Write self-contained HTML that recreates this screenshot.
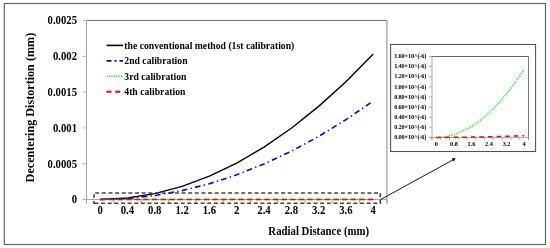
<!DOCTYPE html>
<html><head><meta charset="utf-8"><style>
html,body{margin:0;padding:0;background:#fff;width:550px;height:248px;overflow:hidden}
svg{display:block}
text{font-family:"Liberation Serif",serif;font-weight:bold;fill:#000}
.t1{font-size:10.7px}
.t2{font-size:10.8px}
.t3{font-size:12.15px}
.tl{font-size:9.7px}
.ti{font-size:6.3px}
</style></head><body>
<svg width="550" height="248" viewBox="0 0 550 248">
<rect x="0" y="0" width="550" height="248" fill="#fff"/>
<rect x="4.3" y="3.5" width="541.2" height="241" fill="none" stroke="#666" stroke-width="1.2"/>
<line x1="86.5" y1="20.5" x2="386.9" y2="20.5" stroke="#777" stroke-width="1"/>
<line x1="386.9" y1="20.5" x2="386.9" y2="203.5" stroke="#888" stroke-width="1"/>
<line x1="86.5" y1="20.5" x2="86.5" y2="203.5" stroke="#a8a8a8" stroke-width="1"/>
<line x1="82.5" y1="199.5" x2="386.9" y2="199.5" stroke="#a8a8a8" stroke-width="1"/>
<line x1="83.0" y1="199.50" x2="86.5" y2="199.50" stroke="#b0b0b0" stroke-width="1"/>
<text transform="translate(77,203.30) scale(1,1.08)" text-anchor="end" class="t1">0</text>
<line x1="83.0" y1="163.70" x2="86.5" y2="163.70" stroke="#b0b0b0" stroke-width="1"/>
<text transform="translate(77,167.50) scale(1,1.08)" text-anchor="end" class="t1">0.0005</text>
<line x1="83.0" y1="127.90" x2="86.5" y2="127.90" stroke="#b0b0b0" stroke-width="1"/>
<text transform="translate(77,131.70) scale(1,1.08)" text-anchor="end" class="t1">0.001</text>
<line x1="83.0" y1="92.10" x2="86.5" y2="92.10" stroke="#b0b0b0" stroke-width="1"/>
<text transform="translate(77,95.90) scale(1,1.08)" text-anchor="end" class="t1">0.0015</text>
<line x1="83.0" y1="56.30" x2="86.5" y2="56.30" stroke="#b0b0b0" stroke-width="1"/>
<text transform="translate(77,60.10) scale(1,1.08)" text-anchor="end" class="t1">0.002</text>
<line x1="83.0" y1="20.50" x2="86.5" y2="20.50" stroke="#b0b0b0" stroke-width="1"/>
<text transform="translate(77,24.30) scale(1,1.08)" text-anchor="end" class="t1">0.0025</text>
<line x1="86.50" y1="199.5" x2="86.50" y2="203.5" stroke="#a8a8a8" stroke-width="1"/>
<line x1="113.81" y1="199.5" x2="113.81" y2="203.5" stroke="#a8a8a8" stroke-width="1"/>
<line x1="141.12" y1="199.5" x2="141.12" y2="203.5" stroke="#a8a8a8" stroke-width="1"/>
<line x1="168.43" y1="199.5" x2="168.43" y2="203.5" stroke="#a8a8a8" stroke-width="1"/>
<line x1="195.74" y1="199.5" x2="195.74" y2="203.5" stroke="#a8a8a8" stroke-width="1"/>
<line x1="223.05" y1="199.5" x2="223.05" y2="203.5" stroke="#a8a8a8" stroke-width="1"/>
<line x1="250.35" y1="199.5" x2="250.35" y2="203.5" stroke="#a8a8a8" stroke-width="1"/>
<line x1="277.66" y1="199.5" x2="277.66" y2="203.5" stroke="#a8a8a8" stroke-width="1"/>
<line x1="304.97" y1="199.5" x2="304.97" y2="203.5" stroke="#a8a8a8" stroke-width="1"/>
<line x1="332.28" y1="199.5" x2="332.28" y2="203.5" stroke="#a8a8a8" stroke-width="1"/>
<line x1="359.59" y1="199.5" x2="359.59" y2="203.5" stroke="#a8a8a8" stroke-width="1"/>
<line x1="386.90" y1="199.5" x2="386.90" y2="203.5" stroke="#a8a8a8" stroke-width="1"/>
<text transform="translate(100.15,214.3) scale(1,1.08)" text-anchor="middle" class="t1">0</text>
<text transform="translate(127.46,214.3) scale(1,1.08)" text-anchor="middle" class="t1">0.4</text>
<text transform="translate(154.77,214.3) scale(1,1.08)" text-anchor="middle" class="t1">0.8</text>
<text transform="translate(182.08,214.3) scale(1,1.08)" text-anchor="middle" class="t1">1.2</text>
<text transform="translate(209.39,214.3) scale(1,1.08)" text-anchor="middle" class="t1">1.6</text>
<text transform="translate(236.70,214.3) scale(1,1.08)" text-anchor="middle" class="t1">2</text>
<text transform="translate(264.01,214.3) scale(1,1.08)" text-anchor="middle" class="t1">2.4</text>
<text transform="translate(291.32,214.3) scale(1,1.08)" text-anchor="middle" class="t1">2.8</text>
<text transform="translate(318.63,214.3) scale(1,1.08)" text-anchor="middle" class="t1">3.2</text>
<text transform="translate(345.94,214.3) scale(1,1.08)" text-anchor="middle" class="t1">3.6</text>
<text transform="translate(373.25,214.3) scale(1,1.08)" text-anchor="middle" class="t1">4</text>
<text transform="translate(318.7,234.8) scale(1,1.08)" text-anchor="middle" class="t2">Radial Distance (mm)</text>
<text transform="translate(34.3,107.6) rotate(-90) scale(1,1.08)" text-anchor="middle" class="t3">Decentering Distortion (mm)</text>
<polyline points="100.15,199.50 127.46,198.05 154.77,193.68 182.08,186.41 209.39,176.22 236.70,163.13 264.01,147.12 291.32,128.21 318.63,106.39 345.94,81.65 373.25,54.01" fill="none" stroke="#000" stroke-width="1.4"/>
<polyline points="100.15,199.50 127.46,198.51 154.77,195.56 182.08,190.63 209.39,183.74 236.70,174.87 264.01,164.03 291.32,151.22 318.63,136.45 345.94,119.70 373.25,100.98" fill="none" stroke="#00f" stroke-width="1.6" stroke-dasharray="5.6 3.35 1.3 3.35" stroke-dashoffset="-0.7"/>
<polyline points="100.15,199.50 127.46,199.50 154.77,199.50 182.08,199.49 209.39,199.48 236.70,199.48 264.01,199.47 291.32,199.45 318.63,199.44 345.94,199.42 373.25,199.40" fill="none" stroke="#0f0" stroke-width="1.6" stroke-dasharray="1.2 1.2"/>
<polyline points="100.15,199.50 127.46,199.50 154.77,199.50 182.08,199.50 209.39,199.50 236.70,199.50 264.01,199.50 291.32,199.50 318.63,199.50 345.94,199.50 373.25,199.50" fill="none" stroke="#f00" stroke-width="1.3" stroke-dasharray="5.3 3.34"/>
<path d="M95.20,193H99.20M101.84,193H105.84M108.48,193H112.48M115.12,193H119.12M121.76,193H125.76M128.40,193H132.40M135.04,193H139.04M141.68,193H145.68M148.32,193H152.32M154.96,193H158.96M161.60,193H165.60M168.24,193H172.24M174.88,193H178.88M181.52,193H185.52M188.16,193H192.16M194.80,193H198.80M201.44,193H205.44M208.08,193H212.08M214.72,193H218.72M221.36,193H225.36M228.00,193H232.00M234.64,193H238.64M241.28,193H245.28M247.92,193H251.92M254.56,193H258.56M261.20,193H265.20M267.84,193H271.84M274.48,193H278.48M281.12,193H285.12M287.76,193H291.76M294.40,193H298.40M301.04,193H305.04M307.68,193H311.68M314.32,193H318.32M320.96,193H324.96M327.60,193H331.60M334.24,193H338.24M340.88,193H344.88M347.52,193H351.52M354.16,193H358.16M360.80,193H364.80M367.44,193H371.44M374.08,193H378.08M94.40,203.3H98.40M101.04,203.3H105.04M107.68,203.3H111.68M114.32,203.3H118.32M120.96,203.3H124.96M127.60,203.3H131.60M134.24,203.3H138.24M140.88,203.3H144.88M147.52,203.3H151.52M154.16,203.3H158.16M160.80,203.3H164.80M167.44,203.3H171.44M174.08,203.3H178.08M180.72,203.3H184.72M187.36,203.3H191.36M194.00,203.3H198.00M200.64,203.3H204.64M207.28,203.3H211.28M213.92,203.3H217.92M220.56,203.3H224.56M227.20,203.3H231.20M233.84,203.3H237.84M240.48,203.3H244.48M247.12,203.3H251.12M253.76,203.3H257.76M260.40,203.3H264.40M267.04,203.3H271.04M273.68,203.3H277.68M280.32,203.3H284.32M286.96,203.3H290.96M293.60,203.3H297.60M300.24,203.3H304.24M306.88,203.3H310.88M313.52,203.3H317.52M320.16,203.3H324.16M326.80,203.3H330.80M333.44,203.3H337.44M340.08,203.3H344.08M346.72,203.3H350.72M353.36,203.3H357.36M360.00,203.3H364.00M366.64,203.3H370.64M373.28,203.3H377.28M379.92,203.3H381.10M380.3,193.3V197.3M380.3,199.9V203.3M94,194.2V197.8M94,201V204.10000000000002" fill="none" stroke="#444" stroke-width="1.6"/>
<line x1="380.5" y1="199.6" x2="453.5" y2="159.6" stroke="#000" stroke-width="0.9"/>
<polygon points="455.8,158.2 453.5,161.5 451.8,158.3" fill="#000"/>
<line x1="106.5" y1="45.40" x2="123" y2="45.40" stroke="#000" stroke-width="1.6" stroke-dasharray="none"/>
<text transform="translate(124.3,48.70) scale(1,1.08)" class="tl">the conventional method (1st calibration)</text>
<line x1="106.5" y1="60.85" x2="123" y2="60.85" stroke="#00f" stroke-width="1.8" stroke-dasharray="5 3 2 3"/>
<text transform="translate(124.3,64.15) scale(1,1.08)" class="tl">2nd calibration</text>
<line x1="106.5" y1="76.30" x2="123" y2="76.30" stroke="#0f0" stroke-width="1.5" stroke-dasharray="1.3 1.1"/>
<text transform="translate(124.3,79.60) scale(1,1.08)" class="tl">3rd calibration</text>
<line x1="106.5" y1="91.75" x2="123" y2="91.75" stroke="#f00" stroke-width="1.8" stroke-dasharray="5 3.7"/>
<text transform="translate(124.3,95.05) scale(1,1.08)" class="tl">4th calibration</text>
<rect x="390.6" y="44.5" width="145" height="107" fill="#fff" stroke="#505050" stroke-width="1.05"/>
<line x1="432" y1="56.5" x2="528.5" y2="56.5" stroke="#6a6a6a" stroke-width="1"/>
<line x1="528.5" y1="56.5" x2="528.5" y2="139.9" stroke="#7a7a7a" stroke-width="1"/>
<line x1="432" y1="56.5" x2="432" y2="139.9" stroke="#a8a8a8" stroke-width="1"/>
<line x1="429" y1="137.4" x2="528.5" y2="137.4" stroke="#a8a8a8" stroke-width="1"/>
<line x1="429" y1="137.40" x2="432" y2="137.40" stroke="#9a9a9a" stroke-width="0.8"/>
<text x="394.2" y="139.10" textLength="32.2" lengthAdjust="spacing" class="ti">0.00×10^(-6)</text>
<line x1="429" y1="127.29" x2="432" y2="127.29" stroke="#9a9a9a" stroke-width="0.8"/>
<text x="394.2" y="128.99" textLength="32.2" lengthAdjust="spacing" class="ti">0.20×10^(-6)</text>
<line x1="429" y1="117.18" x2="432" y2="117.18" stroke="#9a9a9a" stroke-width="0.8"/>
<text x="394.2" y="118.88" textLength="32.2" lengthAdjust="spacing" class="ti">0.40×10^(-6)</text>
<line x1="429" y1="107.06" x2="432" y2="107.06" stroke="#9a9a9a" stroke-width="0.8"/>
<text x="394.2" y="108.76" textLength="32.2" lengthAdjust="spacing" class="ti">0.60×10^(-6)</text>
<line x1="429" y1="96.95" x2="432" y2="96.95" stroke="#9a9a9a" stroke-width="0.8"/>
<text x="394.2" y="98.65" textLength="32.2" lengthAdjust="spacing" class="ti">0.80×10^(-6)</text>
<line x1="429" y1="86.84" x2="432" y2="86.84" stroke="#9a9a9a" stroke-width="0.8"/>
<text x="394.2" y="88.54" textLength="32.2" lengthAdjust="spacing" class="ti">1.00×10^(-6)</text>
<line x1="429" y1="76.72" x2="432" y2="76.72" stroke="#9a9a9a" stroke-width="0.8"/>
<text x="394.2" y="78.42" textLength="32.2" lengthAdjust="spacing" class="ti">1.20×10^(-6)</text>
<line x1="429" y1="66.61" x2="432" y2="66.61" stroke="#9a9a9a" stroke-width="0.8"/>
<text x="394.2" y="68.31" textLength="32.2" lengthAdjust="spacing" class="ti">1.40×10^(-6)</text>
<line x1="429" y1="56.50" x2="432" y2="56.50" stroke="#9a9a9a" stroke-width="0.8"/>
<text x="394.2" y="58.20" textLength="32.2" lengthAdjust="spacing" class="ti">1.60×10^(-6)</text>
<line x1="432.00" y1="137.4" x2="432.00" y2="139.9" stroke="#9a9a9a" stroke-width="0.8"/>
<line x1="440.77" y1="137.4" x2="440.77" y2="139.9" stroke="#9a9a9a" stroke-width="0.8"/>
<line x1="449.55" y1="137.4" x2="449.55" y2="139.9" stroke="#9a9a9a" stroke-width="0.8"/>
<line x1="458.32" y1="137.4" x2="458.32" y2="139.9" stroke="#9a9a9a" stroke-width="0.8"/>
<line x1="467.09" y1="137.4" x2="467.09" y2="139.9" stroke="#9a9a9a" stroke-width="0.8"/>
<line x1="475.86" y1="137.4" x2="475.86" y2="139.9" stroke="#9a9a9a" stroke-width="0.8"/>
<line x1="484.64" y1="137.4" x2="484.64" y2="139.9" stroke="#9a9a9a" stroke-width="0.8"/>
<line x1="493.41" y1="137.4" x2="493.41" y2="139.9" stroke="#9a9a9a" stroke-width="0.8"/>
<line x1="502.18" y1="137.4" x2="502.18" y2="139.9" stroke="#9a9a9a" stroke-width="0.8"/>
<line x1="510.95" y1="137.4" x2="510.95" y2="139.9" stroke="#9a9a9a" stroke-width="0.8"/>
<line x1="519.73" y1="137.4" x2="519.73" y2="139.9" stroke="#9a9a9a" stroke-width="0.8"/>
<line x1="528.50" y1="137.4" x2="528.50" y2="139.9" stroke="#9a9a9a" stroke-width="0.8"/>
<text x="436.39" y="146.0" text-anchor="middle" class="ti">0</text>
<text x="453.93" y="146.0" text-anchor="middle" class="ti">0.8</text>
<text x="471.48" y="146.0" text-anchor="middle" class="ti">1.6</text>
<text x="489.02" y="146.0" text-anchor="middle" class="ti">2.4</text>
<text x="506.57" y="146.0" text-anchor="middle" class="ti">3.2</text>
<text x="524.11" y="146.0" text-anchor="middle" class="ti">4</text>
<polyline points="436.39,137.40 445.16,136.72 453.93,134.68 462.70,131.29 471.48,126.54 480.25,120.42 489.02,112.95 497.80,104.13 506.57,93.94 515.34,82.40 524.11,69.49" fill="none" stroke="#0f0" stroke-width="1.5" stroke-dasharray="1.2 1.3"/>
<polyline points="436.39,137.40 445.16,137.38 453.93,137.33 462.70,137.25 471.48,137.12 480.25,136.97 489.02,136.78 497.80,136.56 506.57,136.30 515.34,136.01 524.11,135.68" fill="none" stroke="#f00" stroke-width="1.5" stroke-dasharray="4.6 4"/>
</svg>
</body></html>
